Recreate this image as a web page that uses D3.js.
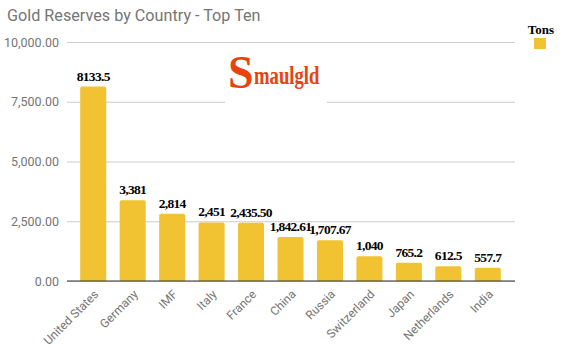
<!DOCTYPE html>
<html>
<head>
<meta charset="utf-8">
<script src="https://cdn.jsdelivr.net/npm/d3@7"></script>
<style>
  body { margin: 0; background: #fff; }
  svg { display: block; }
</style>
</head>
<body>
<div id="chart"></div>
<script>
const countries = ["United States", "Germany", "IMF", "Italy", "France", "China", "Russia", "Switzerland", "Japan", "Netherlands", "India"];
const tons = [8133.5, 3381, 2814, 2451, 2435.5, 1842.61, 1707.67, 1040, 765.2, 612.5, 557.7];
const valueLabels = ["8133.5", "3,381", "2,814", "2,451", "2,435.50", "1,842.61", "1,707.67", "1,040", "765.2", "612.5", "557.7"];
const yTicks = [0, 2500, 5000, 7500, 10000];

const width = 568, height = 348;
const gridLeft = 67, gridRight = 515;
const barColor = "#f1c232";

const svg = d3.select("#chart").append("svg")
    .attr("width", width)
    .attr("height", height);

const x = d3.scaleBand()
    .domain(countries)
    .range([73.5, 507.5])
    .paddingInner(0.34)
    .paddingOuter(0.17);

const y = d3.scaleLinear()
    .domain([0, 10000])
    .range([281, 42]);

// title
svg.append("text")
    .attr("x", 7)
    .attr("y", 21)
    .text("Gold Reserves by Country - Top Ten")
    .style("font-family", "Roboto, Arial, sans-serif")
    .style("font-size", "16.2px")
    .style("fill", "#757575");

// gridlines + y labels
const yAxis = d3.axisLeft(y)
    .tickValues(yTicks)
    .tickSize(-(gridRight - gridLeft))
    .tickPadding(8)
    .tickFormat(d3.format(",.2f"));

const gy = svg.append("g")
    .attr("transform", `translate(${gridLeft},0)`)
    .call(yAxis);
gy.select(".domain").remove();
gy.selectAll(".tick line").attr("stroke", "#cccccc");
gy.selectAll(".tick text")
    .style("font-family", "Roboto, Arial, sans-serif")
    .style("font-size", "12.5px")
    .style("fill", "#757575");

// logo box (covers gridline)
const logo = svg.append("g");
logo.append("rect")
    .attr("x", 225).attr("y", 54)
    .attr("width", 102).attr("height", 50)
    .attr("fill", "#fff");
logo.append("text")
    .attr("x", 228).attr("y", 88)
    .text("S")
    .style("font-family", "'Liberation Serif', 'DejaVu Serif', serif")
    .style("font-weight", "bold")
    .style("font-size", "46px")
    .style("fill", "#e8430f");
logo.append("text")
    .attr("transform", "translate(254,84) scale(0.85,1.1)")
    .text("maulgld")
    .style("font-family", "'Liberation Serif', 'DejaVu Serif', serif")
    .style("font-weight", "bold")
    .style("font-size", "22px")
    .style("fill", "#e8430f");

// bars
svg.append("g")
    .selectAll("path")
    .data(countries)
    .join("path")
    .attr("fill", barColor)
    .attr("d", (d, i) => {
        const x0 = x(d), w = x.bandwidth(), top = y(tons[i]), base = y(0), r = 2;
        return `M${x0},${base}V${top + r}Q${x0},${top} ${x0 + r},${top}H${x0 + w - r}Q${x0 + w},${top} ${x0 + w},${top + r}V${base}Z`;
    });

// baseline
svg.append("line")
    .attr("x1", gridLeft).attr("x2", gridRight)
    .attr("y1", y(0)).attr("y2", y(0))
    .attr("stroke", "#333")
    .attr("stroke-width", 1.2);

// value labels
svg.append("g")
    .selectAll("text")
    .data(countries)
    .join("text")
    .attr("x", d => x(d) + x.bandwidth() / 2)
    .attr("y", (d, i) => y(tons[i]) - 6)
    .attr("text-anchor", "middle")
    .text((d, i) => valueLabels[i])
    .style("font-family", "'Liberation Serif', 'Times New Roman', serif")
    .style("font-weight", "bold")
    .style("font-size", "13.5px")
    .style("letter-spacing", "-0.7px")
    .style("fill", "#000");

// x labels
svg.append("g")
    .selectAll("text")
    .data(countries)
    .join("text")
    .attr("transform", d => `translate(${x(d) + x.bandwidth() / 2 + 6},${y(0) + 14}) rotate(-45)`)
    .attr("text-anchor", "end")
    .text(d => d)
    .style("font-family", "Roboto, Arial, sans-serif")
    .style("font-size", "12px")
    .style("fill", "#757575");

// legend
svg.append("text")
    .attr("x", 541)
    .attr("y", 34)
    .attr("text-anchor", "middle")
    .text("Tons")
    .style("font-family", "'Liberation Serif', 'Times New Roman', serif")
    .style("font-weight", "bold")
    .style("font-size", "13px")
    .style("fill", "#000");
svg.append("rect")
    .attr("x", 534).attr("y", 38)
    .attr("width", 12).attr("height", 11)
    .attr("fill", barColor);
</script>
</body>
</html>
